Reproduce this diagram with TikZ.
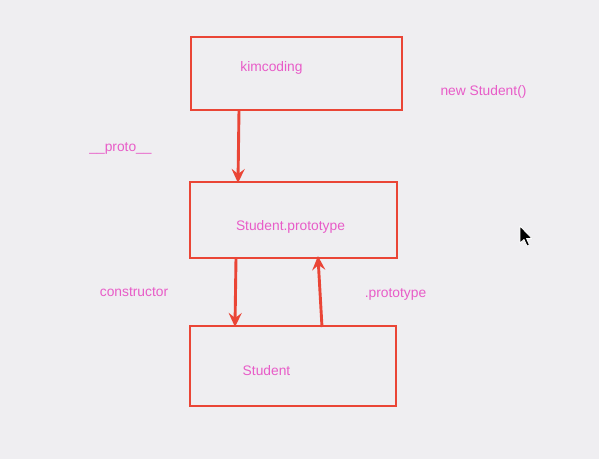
\documentclass[tikz,border=0pt]{standalone}
\usepackage{fontspec}
\setmainfont{Liberation Sans}
\usetikzlibrary{arrows.meta,calc}
\definecolor{bg}{HTML}{EFEEF1}
\definecolor{boxred}{HTML}{EA4536}
\definecolor{txtpink}{HTML}{E85CC8}
\tikzset{
  box/.style={draw=boxred, line width=2.9pt, minimum width=#1, inner sep=0pt},
  lbl/.style={text=txtpink, font=\fontsize{13.8}{16}\selectfont, inner sep=0pt},
  arr/.style={draw=boxred, line width=2.9pt, -{Stealth[length=14pt,width=13pt,inset=5pt]}, shorten >=-1pt}
}
\begin{document}
\begin{tikzpicture}[x=1pt,y=-1pt]
\fill[bg] (0,0) rectangle (599,459);
\useasboundingbox (0,0) rectangle (599,459);
\node[box=211pt, minimum height=73pt] (b1) at (296.5,73.5) {};
\node[box=207pt, minimum height=76pt] (b2) at (293.5,220) {};
\node[box=206pt, minimum height=80pt] (b3) at (293,366) {};
\node[lbl] (t1) at (271.5,68) {kimcoding};
\node[lbl] (t2) at (290.5,226.5) {Student.prototype};
\node[lbl] (t3) at (266.5,370.5) {Student};
\node[lbl] (l1) at (120.5,148.5) {\_\_proto\_\_};
\node[lbl] (l2) at (483.5,91.5) {new Student()};
\node[lbl] (l3) at (134,292.5) {constructor};
\node[lbl] (l4) at (395.5,294.5) {.prototype};
\coordinate (a1s) at (239,110);
\coordinate (a1e) at (238,182);
\coordinate (a2s) at (236,258);
\coordinate (a2e) at (235,326);
\coordinate (a3s) at (322,327);
\coordinate (a3e) at (318,257);
\draw[arr] (a1s) -- (a1e);
\draw[arr] (a2s) -- (a2e);
\draw[arr] (a3s) -- (a3e);
% mouse cursor
\draw[fill=black, draw=white, line width=0.8pt, line join=round]
  (520,226) -- (520,243) -- (524,239.5) -- (527,246) -- (529.5,245) -- (526.5,238.5) -- (532,238.5) -- cycle;
\end{tikzpicture}
\end{document}
